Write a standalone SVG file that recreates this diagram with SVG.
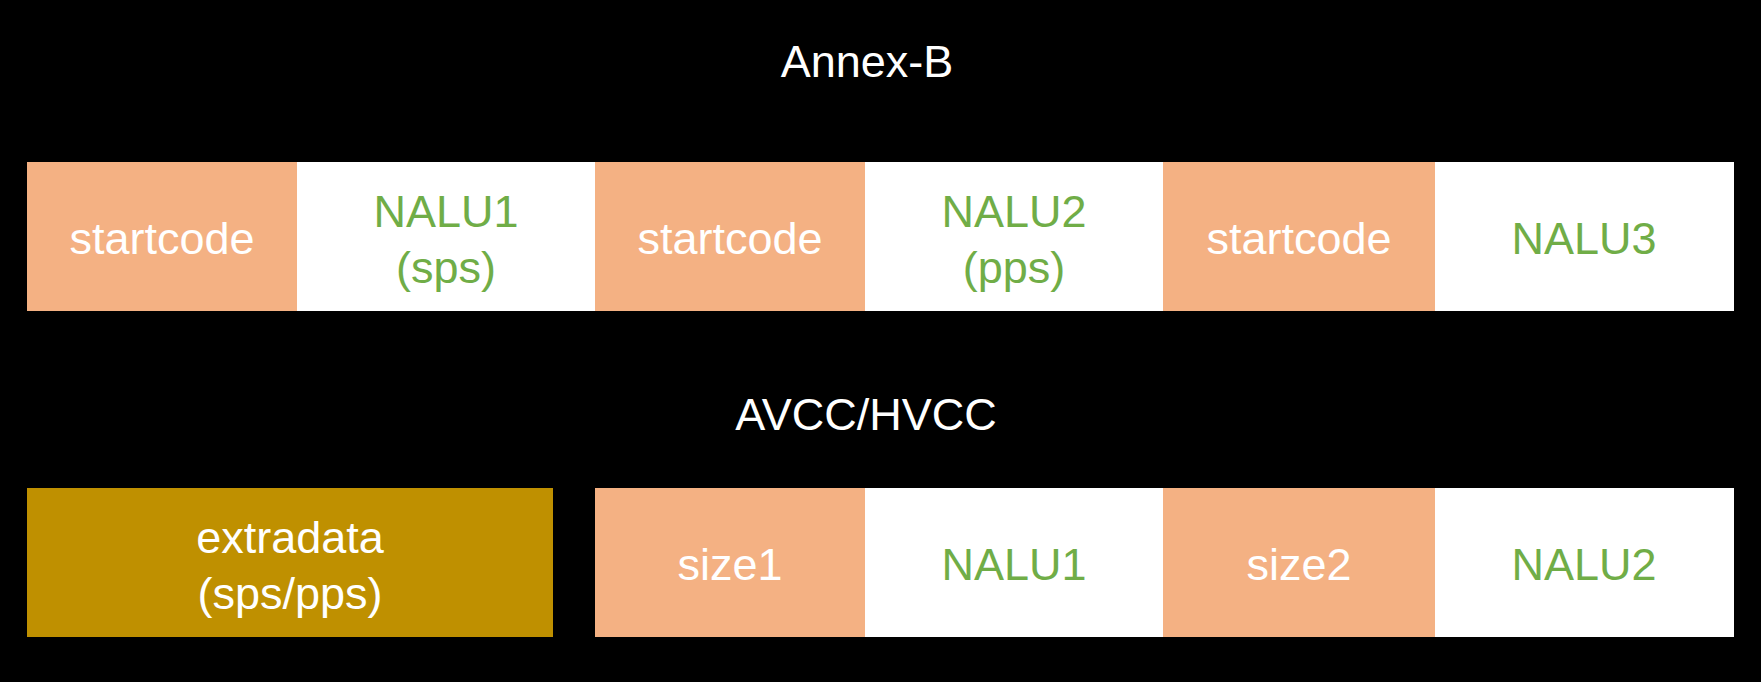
<svg xmlns="http://www.w3.org/2000/svg" width="1761" height="682" viewBox="0 0 1761 682">
<style>
text{font-family:"Liberation Sans",Arial,Helvetica,sans-serif;font-size:45px;text-anchor:middle}
.or{fill:#F4B183}
.wh{fill:#FFFFFF}
.gd{fill:#BF9000}
.tw{fill:#FFFFFF}
.tg{fill:#70AD47}
.title{font-size:45px;fill:#FFFFFF}
</style>
<rect x="0" y="0" width="1761" height="682" fill="#000000"/>
<g id="title-annexb"><text class="title" x="867" y="77">Annex-B</text></g>
<g id="title-avcc"><text class="title" x="866" y="430">AVCC/HVCC</text></g>

<g id="a-startcode1"><rect class="or" x="27" y="162" width="270" height="149"/><text class="tw" x="162" y="254">startcode</text></g>
<g id="a-nalu1"><rect class="wh" x="297" y="162" width="298" height="149"/><text class="tg" x="446" y="227">NALU1</text><text class="tg" x="446" y="283">(sps)</text></g>
<g id="a-startcode2"><rect class="or" x="595" y="162" width="270" height="149"/><text class="tw" x="730" y="254">startcode</text></g>
<g id="a-nalu2"><rect class="wh" x="865" y="162" width="298" height="149"/><text class="tg" x="1014" y="227">NALU2</text><text class="tg" x="1014" y="283">(pps)</text></g>
<g id="a-startcode3"><rect class="or" x="1163" y="162" width="272" height="149"/><text class="tw" x="1299" y="254">startcode</text></g>
<g id="a-nalu3"><rect class="wh" x="1435" y="162" width="299" height="149"/><text class="tg" x="1584" y="254">NALU3</text></g>

<g id="b-extradata"><rect class="gd" x="27" y="488" width="526" height="149"/><text class="tw" x="290" y="553">extradata</text><text class="tw" x="290" y="609">(sps/pps)</text></g>
<g id="b-size1"><rect class="or" x="595" y="488" width="270" height="149"/><text class="tw" x="730" y="580">size1</text></g>
<g id="b-nalu1"><rect class="wh" x="865" y="488" width="298" height="149"/><text class="tg" x="1014" y="580">NALU1</text></g>
<g id="b-size2"><rect class="or" x="1163" y="488" width="272" height="149"/><text class="tw" x="1299" y="580">size2</text></g>
<g id="b-nalu2"><rect class="wh" x="1435" y="488" width="299" height="149"/><text class="tg" x="1584" y="580">NALU2</text></g>

<g id="connectors"></g>
</svg>
